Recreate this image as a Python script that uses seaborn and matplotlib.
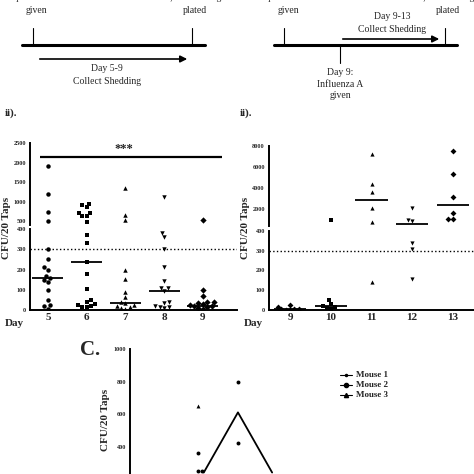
import numpy as np
import pandas as pd
import matplotlib
matplotlib.use("Agg")
import matplotlib.pyplot as plt
import seaborn as sns

sns.set_style("white")
plt.rcParams['font.family'] = ['Liberation Serif', 'DejaVu Serif']
plt.rcParams['font.weight'] = 'bold'

# ---------------- data ----------------
days_a = ["5", "6", "7", "8", "9"]
vals_a = {
    "5": [1920, 1190, 730, 510, 300, 250, 200, 210, 160, 170, 140, 100, 150, 50, 20, 25, 5],
    "6": [950, 900, 850, 720, 700, 620, 630, 480, 370, 330, 235, 180, 105, 50, 40, 30, 20, 15, 15, 25],
    "7": [1350, 650, 520, 200, 155, 90, 65, 40, 35, 25, 20, 15, 10, 5],
    "8": [1120, 380, 360, 300, 210, 145, 110, 110, 95, 40, 35, 20, 15, 10, 15],
    "9": [530, 100, 70, 40, 30, 25, 20, 15, 10, 5, 35, 40, 20],
}
markers_a = ["o", "s", "^", "v", "D"]

days_b = ["9", "10", "11", "12", "13"]
vals_b = {
    "9": [15, 5, 3, 0, 2, 5, 25],
    "10": [940, 50, 20, 10, 5, 15, 30],
    "11": [7200, 4400, 3600, 2100, 800, 140],
    "12": [2100, 1000, 900, 340, 310, 155],
    "13": [7500, 5300, 3200, 1600, 1100, 1100],
}
medians_b = [5, 22, 2900, 620, 2400]
medians_a = [160, 235, 35, 95, 20]
markers_b = ["D", "s", "^", "v", "D"]

c_line_x = [1.05, 2, 2.95]
c_line_y = [240, 610, 240]
c_pts_x = [0.9, 0.9, 0.9, 1.0, 2, 2]
c_pts_y = [650, 360, 250, 250, 800, 420]
c_pts_m = ["^", "o", "o", "o", "o", "o"]

W = 474.0
fig = plt.figure(figsize=(4.74, 4.74), dpi=100)

def ax_px(x0, y0, x1, y1):
    return fig.add_axes([x0 / W, 1 - y1 / W, (x1 - x0) / W, (y1 - y0) / W])

def style(ax, bottom=True):
    sns.despine(ax=ax, top=True, right=True, bottom=not bottom)
    for s in ax.spines.values():
        s.set_linewidth(1.4)
        s.set_color("black")
    ax.tick_params(axis="y", labelsize=4.5, length=2, width=0.8, pad=1)
    ax.minorticks_on()
    ax.tick_params(axis="x", which="minor", bottom=False)
    ax.tick_params(axis="y", which="minor", length=1.2, width=0.6)
    ax.set_xlabel("")
    ax.set_ylabel("")

def broken_panel(x0, x1, yup0, yup1, ylo0, ylo1, days, vals, medians, markers,
                 uplim, upticks, xlim, ms):
    up = ax_px(x0, yup0, x1, yup1)
    lo = ax_px(x0, ylo0, x1, ylo1)
    for i, d in enumerate(days):
        v = np.array(vals[d])
        dl = pd.DataFrame({"day": d, "v": v[v <= 400]})
        du = pd.DataFrame({"day": d, "v": v[v > 400]})
        if len(dl):
            sns.swarmplot(data=dl, x="day", y="v", order=days, ax=lo, color="black",
                          marker=markers[i], size=ms, linewidth=0)
        if len(du):
            sns.swarmplot(data=du, x="day", y="v", order=days, ax=up, color="black",
                          marker=markers[i], size=ms, linewidth=0)
        m = medians[i]
        tgt = lo if m <= 400 else up
        tgt.hlines(m, i - 0.4, i + 0.4, color="black", lw=1.3)
    lo.set_ylim(0, 400)
    lo.set_yticks([0, 100, 200, 300, 400])
    up.set_ylim(*uplim)
    up.set_yticks(upticks)
    for a in (up, lo):
        a.set_xlim(*xlim)
        style(a, bottom=(a is lo))
    up.set_xticks([])
    lo.axhline(300, color="black", lw=1.0, ls=":")
    lo.set_xticks(range(len(days)))
    lo.set_xticklabels(days, fontsize=8, fontweight="bold")
    lo.tick_params(axis="x", length=0, pad=2)
    return up, lo

upA, loA = broken_panel(30, 237, 143, 225, 229, 310, days_a, vals_a, medians_a, markers_a,
                        (400, 2500), [500, 1000, 1500, 2000, 2500], (-0.46, 4.88), 3.2)
upA.hlines(2150, -0.2, 4.5, color="black", lw=1.6)
upA.text(1.95, 2180, "***", ha="center", va="bottom", fontsize=9)

upB, loB = broken_panel(269, 474, 146, 226, 231, 310, days_b, vals_b, medians_b, markers_b,
                        (400, 8000), [2000, 4000, 6000, 8000], (-0.52, 4.52), 3.0)

fig.text(5 / W, 1 - 324 / W, "Day", fontsize=8, fontweight="bold", va="center")
fig.text(244 / W, 1 - 324 / W, "Day", fontsize=8, fontweight="bold", va="center")
fig.text(7 / W, 1 - 228 / W, "CFU/20 Taps", rotation=90, fontsize=8, fontweight="bold", va="center", ha="center")
fig.text(245 / W, 1 - 228 / W, "CFU/20 Taps", rotation=90, fontsize=8, fontweight="bold", va="center", ha="center")
fig.text(5 / W, 1 - 113 / W, "ii).", fontsize=8, fontweight="bold", va="center")
fig.text(240 / W, 1 - 113 / W, "ii).", fontsize=8, fontweight="bold", va="center")

# ---------------- panel C ----------------
axC = ax_px(130, 349, 474, 474)
axC.plot(c_line_x, c_line_y, color="black", lw=1.3, clip_on=False)
for x, y, m in zip(c_pts_x, c_pts_y, c_pts_m):
    axC.scatter([x], [y], marker=m, color="black", s=8, linewidths=0)
axC.set_ylim(231, 1000)
axC.set_yticks([400, 600, 800, 1000])
axC.set_xlim(-1, 8.56)
axC.set_xticks([])
style(axC, bottom=False)
fig.text(90 / W, 1 - 350 / W, "C.", fontsize=15, fontweight="bold", va="center", ha="center")
fig.text(105 / W, 1 - 420 / W, "CFU/20 Taps", rotation=90, fontsize=8, fontweight="bold", va="center", ha="center")
for k, (lab, m) in enumerate(zip(["Mouse 1", "Mouse 2", "Mouse 3"], [".", "o", "^"])):
    yy = 1 - (375 + k * 10) / W
    fig.add_artist(plt.Line2D([340 / W, 352 / W], [yy, yy], color="black", lw=0.8))
    fig.add_artist(plt.Line2D([346 / W], [yy], marker=m, color="black", ms=3))
    fig.text(356 / W, yy, lab, fontsize=6.5, fontweight="bold", va="center")

# ---------------- timelines ----------------
tl = fig.add_axes([0, 0, 1, 1])
tl.set_xlim(0, W)
tl.set_ylim(W, 0)
tl.axis("off")
kw = dict(fontsize=7, ha="center", fontweight="normal")
tl.plot([22, 205], [45, 45], color="black", lw=2.2)
tl.plot([33, 33], [28, 45], color="black", lw=0.8)
tl.plot([192, 192], [28, 45], color="black", lw=0.8)
tl.annotate("", xy=(190, 59), xytext=(37, 59), arrowprops=dict(arrowstyle="-|>", color="black", lw=1.2))
tl.text(36, 2, "S. pneumoniae", style="italic", va="bottom", **kw)
tl.text(36, 15, "given", va="bottom", **kw)
tl.text(195, 2, "T, Nasal lavage", va="bottom", **kw)
tl.text(195, 15, "plated", va="bottom", **kw)
tl.text(107, 73, "Day 5-9", va="bottom", **kw)
tl.text(107, 86, "Collect Shedding", va="bottom", **kw)

tl.plot([274, 457], [45, 45], color="black", lw=2.2)
tl.plot([284, 284], [28, 45], color="black", lw=0.8)
tl.plot([445, 445], [28, 45], color="black", lw=0.8)
tl.plot([340, 340], [45, 63], color="black", lw=0.8)
tl.annotate("", xy=(442, 39), xytext=(340, 39), arrowprops=dict(arrowstyle="-|>", color="black", lw=1.2))
tl.text(288, 2, "S. pneumoniae", style="italic", va="bottom", **kw)
tl.text(288, 15, "given", va="bottom", **kw)
tl.text(448, 2, "T, Nasal lavage", va="bottom", **kw)
tl.text(448, 15, "plated", va="bottom", **kw)
tl.text(392, 21, "Day 9-13", va="bottom", **kw)
tl.text(392, 34, "Collect Shedding", va="bottom", **kw)
tl.text(340, 77, "Day 9:", va="bottom", **kw)
tl.text(340, 89, "Influenza A", va="bottom", **kw)
tl.text(340, 100, "given", va="bottom", **kw)

fig.savefig("out.png", dpi=100)
